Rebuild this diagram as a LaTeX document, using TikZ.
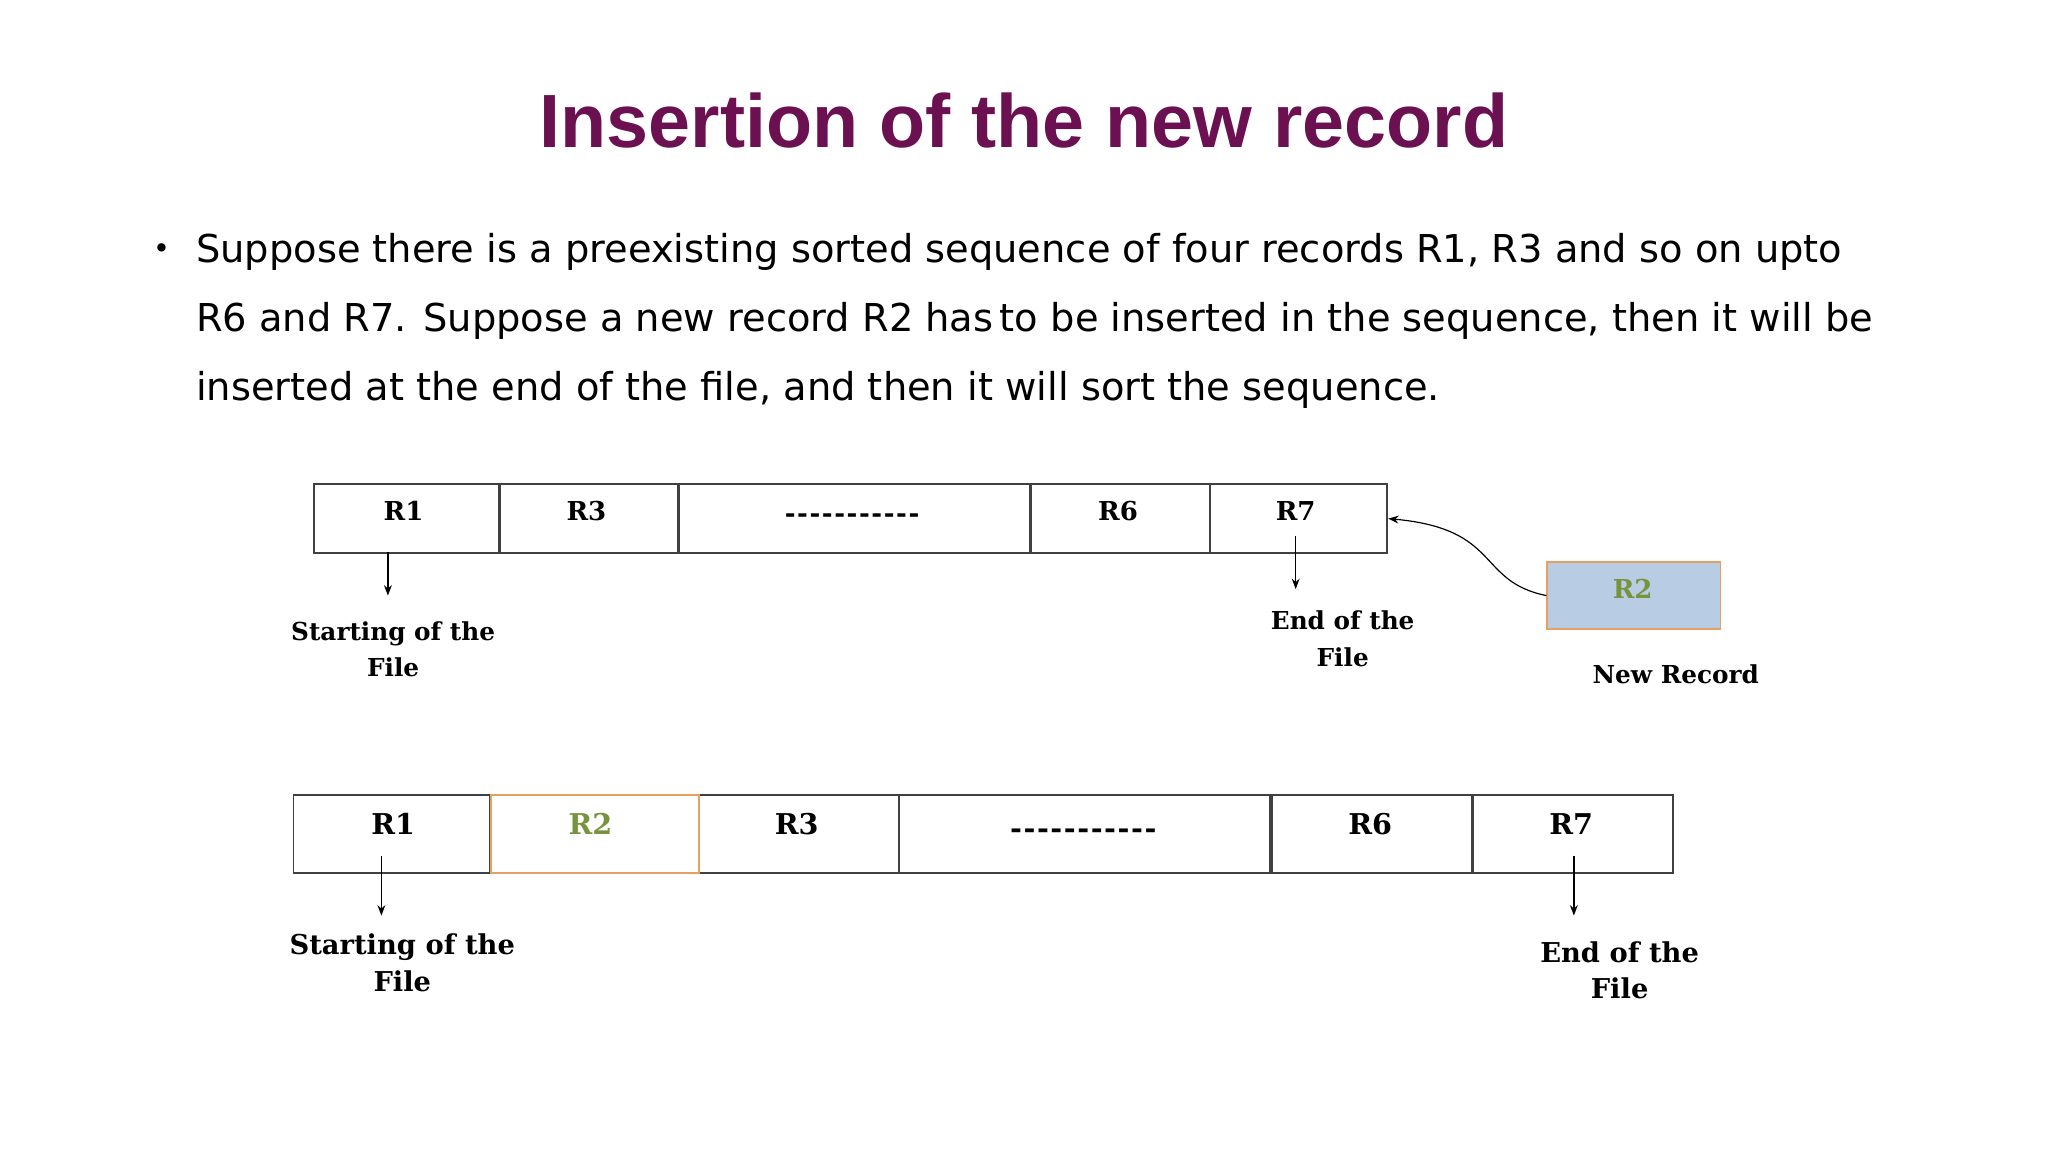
\documentclass[tikz,border=0pt]{standalone}
\usepackage{fontspec}
\setmainfont{DejaVu Serif}
\setsansfont{DejaVu Sans}
\newfontfamily\titlefont{Liberation Sans}
\usetikzlibrary{arrows.meta}
\definecolor{titlec}{HTML}{6B1050}
\definecolor{rtwo}{HTML}{77933C}
\definecolor{obord}{HTML}{E8A060}
\definecolor{bfill}{HTML}{B8CCE4}
\definecolor{gline}{HTML}{404040}
\newcommand{\dashrow}{\foreach \i in {1,...,11}{\mbox{-}\kern1.2pt}}
\tikzset{
 cellbox/.style={draw=gline, line width=1.3bp, inner sep=0pt, anchor=north west},
 lbl/.style={font=\bfseries\fontsize{#1}{#1}\selectfont, inner sep=0pt},
 multi/.style={font=\bfseries\fontsize{#1}{28}\selectfont, align=center, inner sep=0pt},
 arr/.style={-{Stealth[length=8bp,width=6bp]}, line width=1.2bp, black},
 body/.style={font=\sffamily\fontsize{29.5}{30}\selectfont, anchor=base west, inner sep=0pt}
}
\begin{document}
\begin{tikzpicture}[x=1bp,y=-1bp]
\useasboundingbox (0,0) rectangle (1568,882);
\node[font=\titlefont\bfseries\fontsize{58}{58}\selectfont, text=titlec, inner sep=0pt] (title) at (784,92) {Insertion of the new record};
\node[font=\sffamily\fontsize{22}{22}\selectfont, inner sep=0pt] (bul) at (124,192) {•};
\node[body] (l1) at (150,201) {Suppose there is a preexisting sorted sequence of four records R1, R3 and so on upto};
\node[body] (l2) at (150,254) {R6 and R7. Suppose a new record R2 has\,to be inserted in the sequence, then it will be};
\node[body] (l3) at (150,307) {inserted at the end of the file, and then it will sort the sequence.};
% diagram 1
\foreach \n/\a/\b in {a1/240/382,a3/382/519,ad/519/789,a6/789/926,a7/926/1062}
  \node[cellbox, minimum width=\b-\a, minimum height=53] (\n) at (\a,370) {};
\node[lbl=20] (ta1) at (309,391) {R1};
\node[lbl=20] (ta3) at (449,391) {R3};
\node[lbl=20] (tad) at (653,397) {\dashrow};
\node[lbl=20] (ta6) at (856,391) {R6};
\node[lbl=20] (ta7) at (992,391) {R7};
\coordinate (s1) at (297,423); \coordinate (s1e) at (297,456);
\draw[arr] (s1) -- (s1e);
\coordinate (e1) at (992,410); \coordinate (e1e) at (992,451);
\draw[arr] (e1) -- (e1e);
\node[multi=19] (st1) at (301,497) {Starting of the\\File};
\node[multi=19] (en1) at (1028,489) {End of the\\File};
\node[draw=obord, fill=bfill, line width=1.5bp, minimum width=133, minimum height=52, inner sep=0pt] (r2) at (1251,456) {};
\node[lbl=20, text=rtwo] (tr2) at (1250,451) {R2};
\node[lbl=19] (nr) at (1283,516) {New Record};
\draw[arr, line width=0.9bp] (r2.west) .. controls (1130,445) and (1150,405) .. (a7.east);
% diagram 2
\foreach \n/\a/\b in {b1/224/375,b3/535/688,bd/688/973,b6/973/1127,b7/1127/1281}
  \node[cellbox, minimum width=\b-\a, minimum height=60] (\n) at (\a,608) {};
\node[draw=obord, line width=1.3bp, inner sep=0pt, anchor=north west, minimum width=160, minimum height=60] (b2) at (375,608) {};
\node[lbl=22] (tb1) at (301,631) {R1};
\node[lbl=22, text=rtwo] (tb2) at (452,631) {R2};
\node[lbl=22] (tb3) at (610,631) {R3};
\node[lbl=22] (tbd) at (830,638) {\dashrow};
\node[lbl=22] (tb6) at (1049,631) {R6};
\node[lbl=22] (tb7) at (1203,631) {R7};
\coordinate (s2) at (292,655); \coordinate (s2e) at (292,701);
\draw[arr] (s2) -- (s2e);
\coordinate (e2) at (1205,655); \coordinate (e2e) at (1205,701);
\draw[arr] (e2) -- (e2e);
\node[multi=21] (st2) at (308,737) {Starting of the\\File};
\node[multi=21] (en2) at (1240,743) {End of the\\File};
\end{tikzpicture}
\end{document}
